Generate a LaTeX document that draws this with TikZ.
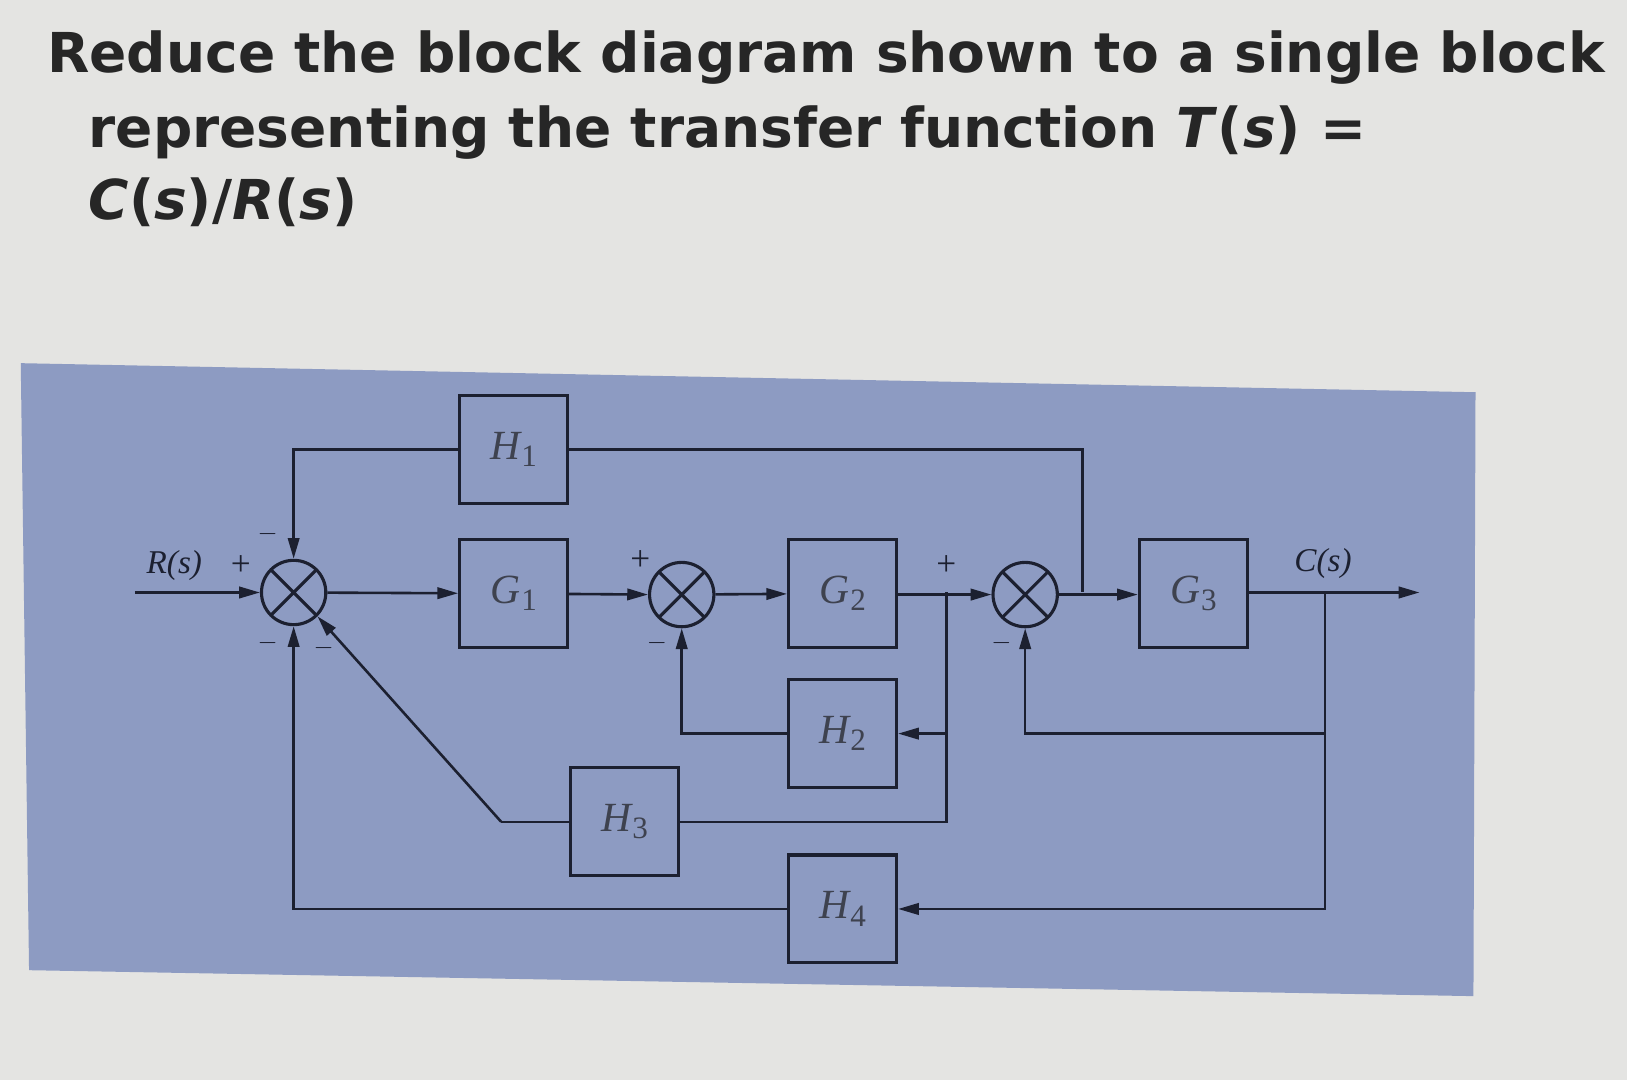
\documentclass[tikz,border=0pt]{standalone}
\usepackage{fontspec}
\setmainfont{Liberation Serif}
\newfontfamily\titlefont{DejaVu Sans}
\usetikzlibrary{arrows.meta}
\definecolor{panel}{HTML}{8D9BC2}
\definecolor{ink}{HTML}{1C2030}
\definecolor{bgc}{HTML}{E4E4E2}
\newcommand{\blab}[2]{#1\kern1pt\raisebox{-7pt}{\upshape\fontsize{30}{30}\selectfont #2}}
\tikzset{
 blk/.style={draw=ink,line width=3pt,fill=panel,minimum width=104pt,minimum height=104pt,inner sep=0pt,font=\fontsize{40}{40}\selectfont\itshape,text=ink!85},
 sumj/.style={draw=ink,line width=3pt,circle,minimum size=62pt,inner sep=0pt,path picture={\draw[ink,line width=3pt] (path picture bounding box.north west)--(path picture bounding box.south east) (path picture bounding box.north east)--(path picture bounding box.south west);}},
 wire/.style={ink,line width=2.5pt},
 arr/.style={wire,-{Triangle[length=20pt,width=11pt]}},
 sgn/.style={font=\fontsize{34}{34}\selectfont,text=ink},
 lbl/.style={font=\fontsize{32}{32}\selectfont\itshape,text=ink},
 ttl/.style={anchor=west,font=\titlefont\bfseries\fontsize{53}{60}\selectfont,text=black!85},
}
\begin{document}
\begin{tikzpicture}[x=1pt,y=-1pt]
\fill[bgc] (0,0) rectangle (1568,1041);
\useasboundingbox (0,0) rectangle (1568,1041);
\fill[panel] (20,350) -- (1422,378) -- (1420,960) -- (28,935) -- cycle;
\node[ttl] (t1) at (42,55) {Reduce the block diagram shown to a single block};
\node[ttl] (t2) at (82,128) {representing the transfer function \textit{T}(\textit{s}) =};
\node[ttl] (t3) at (82,195) {\textit{C}(\textit{s})/\textit{R}(\textit{s})};
% nodes
\node[sumj] (s1) at (283,571) {};
\node[sumj] (s2) at (657,573) {};
\node[sumj] (s3) at (988,573) {};
\node[blk] (H1) at (495,433) {\blab{H}{1}};
\node[blk] (G1) at (495,572) {\blab{G}{1}};
\node[blk] (G2) at (812,572) {\blab{G}{2}};
\node[blk] (G3) at (1150,572) {\blab{G}{3}};
\node[blk] (H2) at (812,707) {\blab{H}{2}};
\node[blk] (H3) at (602,792) {\blab{H}{3}};
\node[blk] (H4) at (812,876) {\blab{H}{4}};
\coordinate (rin) at (130,571);
\coordinate (cout) at (1368,571);
\coordinate (j1) at (1043,571);
\coordinate (j2) at (912,571);
\coordinate (j3) at (1277,571);
% wires
\draw[arr] (rin) -- (s1.west);
\draw[arr] (s1) -- (G1);
\draw[arr] (G1) -- (s2.west);
\draw[arr] (s2) -- (G2);
\draw[arr] (G2.east|-s3) -- (s3.west);
\draw[arr] (s3) -- (G3.west|-s3);
\draw[arr] (G3.east|-cout) -- (cout);
\draw[arr] (H1.west) -| (s1.north);
\draw[wire] (H1.east) -| (j1);
\draw[arr] (j2) |- (H2.east);
\draw[wire] (j2) |- (H3.east);
\draw[arr] (H2.west) -| (s2.south);
\draw[wire] (H3.west) -- (483,792) coordinate (k);
\draw[arr] (k) -- (s1.south east);
\draw[arr] (j3) |- (H4.east);
\draw[arr] (j3|-H2) -| (s3.south);
\draw[arr] (H4.west) -| (s1.south);
% labels
\node[lbl] (R) at (168,545) {R(s)};
\node[lbl] (C) at (1275,543) {C(s)};
\node[sgn] (p1) at (232,545) {+};
\node[sgn] (m1) at (258,515) {$-$};
\node[sgn] (m2) at (258,620) {$-$};
\node[sgn] (m3) at (312,625) {$-$};
\node[sgn] (p2) at (617,540) {+};
\node[sgn] (m4) at (633,620) {$-$};
\node[sgn] (p3) at (912,545) {+};
\node[sgn] (m5) at (965,620) {$-$};
\end{tikzpicture}
\end{document}
